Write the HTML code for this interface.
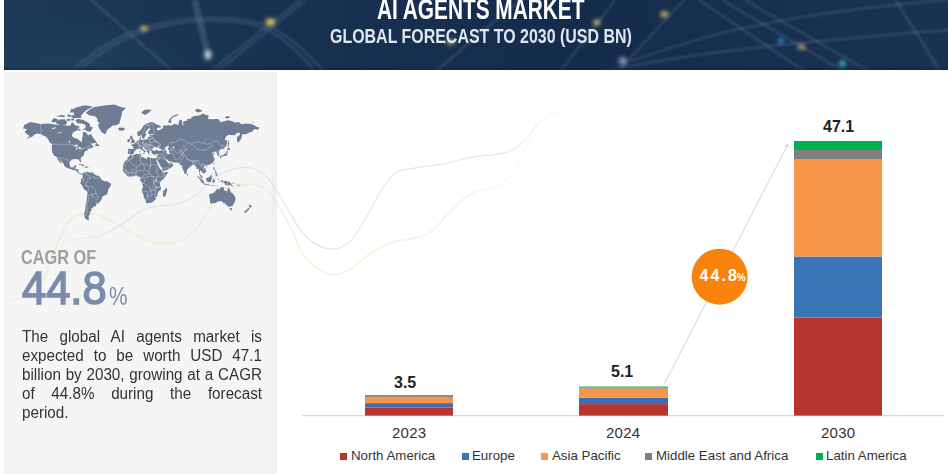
<!DOCTYPE html>
<html><head><meta charset="utf-8">
<style>
*{margin:0;padding:0;box-sizing:border-box}
html,body{width:948px;height:474px;overflow:hidden;background:#fff;font-family:"Liberation Sans",sans-serif}
#root{position:relative;width:948px;height:474px;background:#fff}
.abs{position:absolute;white-space:nowrap}
#banner{position:absolute;left:4px;top:0;width:944px;height:70px;overflow:hidden;background:#172e4e}
#panel{position:absolute;left:4px;top:71.5px;width:273px;height:404px;background:linear-gradient(90deg,#f5f5f5 0,#f5f5f5 267px,#efefef 268px,#f0f0f0 273px)}
.title{font-weight:bold;color:#fff;transform-origin:0 0}
.cond{transform-origin:0 0;display:inline-block}
.para{position:absolute;left:22px;top:326.5px;width:252.6px;font-size:16px;line-height:19.1px;color:#333;transform:scaleX(0.95);transform-origin:0 0}
.pl{text-align:justify;text-align-last:justify;white-space:nowrap;height:19.1px}
.pl.last{text-align-last:left}
.val{font-weight:bold;font-size:16px;color:#222}
.yr{font-size:15px;color:#333;letter-spacing:0.25px}
.leg{font-size:13.3px;color:#333}
.sq{position:absolute;width:7px;height:7px}
</style></head><body><div id="root">
<div id="banner">
<svg width="944" height="70" viewBox="4 0 944 70" style="position:absolute;left:0;top:0">
 <defs>
  <linearGradient id="bg" x1="0" x2="1" y1="0" y2="0"><stop offset="0" stop-color="#1d3858"/><stop offset="0.35" stop-color="#183050"/><stop offset="0.6" stop-color="#152b4b"/><stop offset="1" stop-color="#1a3252"/></linearGradient>
  <radialGradient id="glow" cx="0.08" cy="1.1" r="0.25" gradientTransform="scale(1 3)" ><stop offset="0" stop-color="#23526e" stop-opacity="0.7"/><stop offset="1" stop-color="#23526e" stop-opacity="0"/></radialGradient>
  <radialGradient id="glow2" gradientUnits="userSpaceOnUse" cx="70" cy="80" r="130" gradientTransform="translate(70 80) scale(1 0.5) translate(-70 -80)"><stop offset="0" stop-color="#245570" stop-opacity="0.35"/><stop offset="1" stop-color="#245570" stop-opacity="0"/></radialGradient>
  <linearGradient id="btm" x1="0" y1="0" x2="0" y2="1"><stop offset="0" stop-color="#172633" stop-opacity="0"/><stop offset="1" stop-color="#172633" stop-opacity="0.8"/></linearGradient>
  <filter id="bl" x="-20%" y="-20%" width="140%" height="140%"><feGaussianBlur stdDeviation="1"/></filter>
  <filter id="bl2" x="-50%" y="-50%" width="200%" height="200%"><feGaussianBlur stdDeviation="2"/></filter>
 </defs>
 <rect x="4" width="944" height="70" fill="url(#bg)"/>
 <rect x="4" width="944" height="70" fill="url(#glow2)"/>
 <g fill="none" stroke="#a5bad4" stroke-opacity="0.17" stroke-width="2.4" filter="url(#bl)">
  <path d="M91.6 0 L170.8 70"/>
  <path d="M72.7 70 C100 45,125 33,150 26 C180 18,215 15,250 20.6 C275 25,295 40,322.7 70"/>
  <path d="M80 70 C105 47,128 36,152 29 C182 21,215 18,248 23.5 C272 28,290 42,314 70"/>
  <path d="M300.5 0 L212 70"/>
  <path d="M306 0 L219 70"/>
  <path d="M435 72 L520 0"/>
  <path d="M615 0 L560 72"/>
  <path d="M684 0 L617 72"/>
  <path d="M629.6 61.4 C670 48,700 38,723.7 32.7 C760 24,790 19,805.6 16.4 C860 8,910 3,948 0"/>
  <path d="M600 72 C680 55,760 45,948 30"/>
  <path d="M699 0 L805.6 72"/>
  <path d="M722 0 L845 72"/>
  <path d="M745 0 L870 72"/>
  <path d="M895.6 0 L940.7 72"/>
 </g>
 <path d="M194.5 0 L208.7 57" stroke="#8fa6c2" stroke-opacity="0.22" stroke-width="7" filter="url(#bl)"/>
 <rect x="4" y="66" width="944" height="4" fill="url(#btm)"/>
 <g filter="url(#bl2)">
  <ellipse cx="208" cy="55" rx="3.5" ry="5" fill="#e8ecf0" opacity="0.8"/>
  <ellipse cx="144" cy="28.5" rx="3.5" ry="2.5" fill="#f5d662" opacity="0.9"/>
  <ellipse cx="270.4" cy="22" rx="5" ry="3.5" fill="#f5d662" opacity="0.9"/>
  <ellipse cx="450.6" cy="41.8" rx="5" ry="3" fill="#f5d662" opacity="0.6"/>
  <ellipse cx="596.8" cy="22.5" rx="3.5" ry="3" fill="#f5d662" opacity="0.8"/>
  <ellipse cx="664.4" cy="14.3" rx="4" ry="3" fill="#f5d662" opacity="0.8"/>
  <ellipse cx="622.8" cy="61" rx="4" ry="4" fill="#d8dce0" opacity="0.6"/>
  <ellipse cx="781" cy="41" rx="2.5" ry="2.5" fill="#3fb0f0" opacity="0.9"/>
  <ellipse cx="801.5" cy="47" rx="4" ry="2.5" fill="#f5d662" opacity="0.7"/>
  <ellipse cx="842.4" cy="63.4" rx="3" ry="3" fill="#3fd0f0" opacity="0.9"/>
 </g>
</svg>
</div>
<div class="abs title" id="t1" style="left:377px;top:-8px;font-size:30px;transform:scaleX(0.694)">AI AGENTS MARKET</div>
<div class="abs title" id="t2" style="left:329.5px;top:24px;font-size:21px;color:#dfe6ef;transform:scaleX(0.76)">GLOBAL FORECAST TO 2030 (USD BN)</div>

<div id="panel"></div>
<svg width="948" height="474" style="position:absolute;left:0;top:0">
 <g fill="none">
  <defs>
   <linearGradient id="yg" gradientUnits="userSpaceOnUse" x1="0" y1="0" x2="560" y2="0"><stop offset="0" stop-color="#ece5bd" stop-opacity="0.2"/><stop offset="0.1" stop-color="#ece5bd" stop-opacity="0.6"/><stop offset="0.8" stop-color="#efe9c6" stop-opacity="0.5"/><stop offset="1" stop-color="#efe9c6" stop-opacity="0"/></linearGradient>
   <linearGradient id="gg" gradientUnits="userSpaceOnUse" x1="50" y1="0" x2="580" y2="0"><stop offset="0" stop-color="#dcdce2" stop-opacity="0"/><stop offset="0.1" stop-color="#dcdce2" stop-opacity="0.8"/><stop offset="0.85" stop-color="#e0e0e6" stop-opacity="0.8"/><stop offset="1" stop-color="#e0e0e6" stop-opacity="0"/></linearGradient>
   <filter id="mapblur" x="-2%" y="-2%" width="104%" height="104%"><feGaussianBlur stdDeviation="0.4"/></filter>
   <filter id="cb" x="-5%" y="-5%" width="110%" height="110%"><feGaussianBlur stdDeviation="0.45"/></filter>
  </defs>
  <path d="M4.6 302.0 C7.7 301.1 17.8 298.6 23.2 296.3 C28.6 294.0 33.2 291.8 37.1 288.1 C41.0 284.4 43.7 280.0 46.4 274.2 C49.1 268.4 51.1 259.6 53.4 253.4 C55.7 247.2 57.6 242.5 60.3 237.1 C63.0 231.7 66.1 224.8 69.6 220.9 C73.1 217.0 77.8 215.2 81.2 213.9 C84.6 212.6 86.9 212.6 90.0 212.8 C93.1 213.1 95.5 213.5 100.0 215.4 C104.5 217.3 111.3 220.9 117.0 224.0 C122.7 227.1 128.4 231.1 134.0 234.0 C139.6 236.9 144.5 240.1 150.6 241.6 C156.7 243.1 165.2 243.6 170.8 243.2 C176.4 242.8 179.8 241.7 184.3 239.0 C188.8 236.3 193.9 232.0 197.8 227.2 C201.8 222.4 204.8 214.9 208.0 210.4 C211.2 205.9 212.8 203.9 217.0 200.0 C221.2 196.1 227.2 189.6 233.4 187.1 C239.6 184.6 248.9 184.4 254.3 184.8 C259.7 185.2 262.1 186.4 266.0 189.5 C269.9 192.6 273.3 196.8 277.5 203.4 C281.7 210.0 286.7 219.9 291.4 229.0 C296.1 238.1 299.2 250.5 305.5 258.0 C311.8 265.5 321.6 272.1 329.0 274.0 C336.4 275.9 342.9 273.0 349.8 269.6 C356.7 266.2 363.0 258.1 370.4 253.4 C377.8 248.7 387.1 244.1 394.0 241.6 C400.9 239.1 405.9 240.1 411.8 238.6 C417.7 237.1 423.6 236.6 429.5 232.7 C435.4 228.8 440.6 221.4 447.3 215.0 C454.1 208.6 461.4 199.0 470.0 194.0 C478.6 189.0 491.2 189.6 499.0 185.2 C506.8 180.8 511.9 174.9 516.8 167.5 C521.7 160.1 525.1 149.3 528.6 140.9 C532.1 132.5 534.0 124.7 537.5 117.3 C541.0 109.9 546.6 101.3 549.3 96.6 C552.0 91.9 553.0 90.4 553.7 89.2" stroke="url(#yg)" stroke-width="1.8" filter="url(#cb)"/>
  <path d="M53.0 251.0 C55.8 249.3 63.8 243.2 70.0 241.0 C76.2 238.8 85.0 238.3 90.0 237.5 C95.0 236.7 95.0 238.0 100.0 236.0 C105.0 234.0 113.0 229.8 120.0 225.5 C127.0 221.2 135.5 213.7 142.0 210.4 C148.5 207.2 153.3 207.0 159.0 206.0 C164.7 205.0 170.3 206.0 176.0 204.5 C181.7 203.0 188.2 200.0 193.0 197.0 C197.8 194.0 200.2 190.7 205.0 186.7 C209.8 182.7 215.7 176.4 222.0 173.2 C228.3 170.0 236.5 167.8 242.7 167.4 C248.9 167.0 253.9 168.0 259.0 170.9 C264.1 173.8 268.3 178.6 273.0 184.8 C277.7 191.0 281.6 199.5 287.0 208.0 C292.4 216.5 298.5 229.2 305.5 236.0 C312.5 242.8 321.6 248.1 329.0 249.0 C336.4 249.9 343.6 247.3 350.0 241.6 C356.4 235.9 362.1 223.9 367.5 215.0 C372.9 206.1 377.4 195.6 382.3 188.4 C387.2 181.2 391.1 175.4 397.0 172.0 C402.9 168.6 409.3 169.1 417.7 167.7 C426.1 166.2 438.6 165.0 447.3 163.3 C456.0 161.6 460.4 159.2 470.0 157.4 C479.6 155.6 496.2 155.2 505.0 152.7 C513.8 150.2 517.3 147.1 522.7 142.4 C528.1 137.7 532.6 129.4 537.5 124.7 C542.4 120.0 546.4 116.5 552.3 114.3 C558.2 112.1 569.5 111.9 573.0 111.4" stroke="url(#gg)" stroke-width="1.2" filter="url(#cb)"/>
 </g>
 <g id="map" filter="url(#mapblur)">
  <path d="M24.3 124.9 L30.4 121.9 L40.8 124.0 L48.1 123.5 L58.0 124.9 L62.6 125.2 L70.5 125.8 L71.9 121.7 L75.2 125.2 L79.8 126.4 L77.2 130.2 L73.2 132.3 L71.9 135.3 L72.9 137.2 L77.8 138.9 L79.8 140.8 L81.8 142.2 L82.1 138.6 L83.1 133.8 L82.4 132.0 L85.7 132.3 L88.1 135.3 L91.0 134.0 L93.3 138.1 L96.3 141.7 L97.0 142.2 L94.3 143.3 L90.4 143.5 L91.7 144.8 L93.7 146.9 L90.4 148.5 L87.7 148.7 L87.7 150.3 L85.1 151.3 L83.8 154.0 L84.1 155.3 L80.5 158.1 L81.1 161.3 L80.8 162.6 L79.5 161.0 L78.5 159.2 L75.2 159.0 L71.9 159.5 L69.6 162.0 L69.6 164.8 L70.5 166.9 L71.5 167.4 L73.8 166.9 L74.3 165.5 L76.5 165.2 L75.8 167.6 L75.5 168.9 L78.5 169.3 L78.8 172.3 L80.1 173.8 L81.8 173.3 L82.8 174.0 L82.4 174.8 L81.1 174.6 L79.1 174.1 L77.2 172.0 L75.8 170.8 L73.2 169.9 L70.5 169.1 L67.2 167.9 L64.3 165.9 L63.9 164.1 L62.0 162.2 L59.6 159.5 L58.2 157.9 L60.0 160.6 L61.6 164.1 L60.0 162.7 L58.3 160.6 L56.7 157.3 L55.7 156.2 L54.3 155.9 L53.0 153.6 L52.0 151.3 L51.7 149.3 L52.0 146.4 L51.6 144.9 L52.7 144.3 L50.1 143.1 L48.1 139.5 L46.1 136.7 L43.4 135.5 L40.8 134.3 L37.5 133.5 L34.2 134.8 L32.2 136.7 L29.6 137.6 L26.3 139.2 L29.6 135.7 L26.9 134.3 L24.9 132.3 L25.3 130.7 L27.6 129.7 L24.3 128.6 L23.0 128.5Z M85.7 112.9 L89.7 109.4 L94.3 107.1 L104.3 105.5 L114.2 104.6 L120.8 107.1 L126.1 107.9 L122.1 111.7 L121.4 115.9 L120.1 120.5 L119.5 123.3 L116.8 125.2 L112.8 125.6 L109.5 128.3 L107.6 129.2 L105.9 133.3 L104.9 134.3 L103.6 133.5 L101.3 131.8 L100.0 129.7 L98.6 127.2 L98.3 124.1 L100.0 122.9 L97.6 121.7 L97.0 117.9 L94.3 115.9 L89.7 115.6 L87.1 113.8Z M90.4 126.9 L93.0 127.2 L91.7 129.7 L90.7 131.8 L87.1 131.2 L85.1 129.7 L82.4 129.9 L85.4 128.0 L85.7 125.2 L82.4 123.5 L77.8 123.5 L75.2 120.5 L77.8 118.8 L83.1 120.1 L87.7 122.3 L89.7 124.1Z M56.0 121.7 L59.3 119.6 L64.6 119.2 L67.2 121.7 L65.9 124.7 L61.3 125.2 L56.7 124.1Z M51.4 121.2 L54.0 117.9 L58.0 119.2 L56.0 122.3 L52.0 122.3Z M74.5 115.2 L81.1 115.5 L84.4 111.7 L87.7 109.4 L93.0 106.6 L84.4 105.3 L74.5 107.9 L73.2 110.2Z M73.2 117.9 L81.1 117.9 L81.1 115.6 L74.5 114.8 L70.5 115.9Z M67.2 121.1 L70.5 120.5 L69.9 118.6 L66.6 119.2Z M71.2 120.5 L73.8 120.5 L74.5 118.6 L71.2 118.6Z M56.7 116.6 L64.6 117.3 L64.6 115.2 L60.0 115.2 L56.7 115.9Z M67.2 116.6 L70.5 116.9 L71.2 115.2 L67.9 114.3Z M69.9 112.4 L74.5 112.4 L75.8 109.4 L71.2 108.7Z M77.2 130.0 L80.5 130.7 L80.8 129.7 L77.8 128.0Z M94.8 145.5 L97.0 142.2 L97.3 143.9 L99.0 144.8 L99.2 146.3 L97.0 146.0 L94.7 145.4Z M77.8 164.9 L79.8 164.1 L83.1 164.8 L85.0 166.1 L82.8 166.3 L81.1 165.0 L79.1 164.8Z M84.8 167.3 L86.1 166.3 L88.7 167.2 L87.1 167.8 L84.8 167.4Z M82.2 167.4 L83.6 167.6 L83.2 167.7 L82.3 167.6Z M89.6 167.2 L90.6 167.3 L90.6 167.6 L89.6 167.6Z M82.9 173.8 L84.1 172.6 L85.7 172.0 L86.7 171.4 L86.7 172.6 L87.7 171.5 L89.1 172.6 L91.7 172.6 L93.0 172.5 L94.0 174.0 L96.3 175.6 L98.3 175.8 L100.0 176.8 L100.9 178.4 L100.9 179.6 L102.3 180.3 L104.9 181.3 L107.6 181.6 L109.5 182.9 L110.7 183.2 L110.9 185.6 L109.5 187.6 L108.2 189.6 L107.9 191.6 L107.2 194.0 L106.2 195.1 L104.6 195.3 L102.3 196.8 L101.9 199.0 L100.6 200.8 L99.3 202.6 L98.3 203.6 L96.3 203.7 L96.0 204.8 L96.3 206.1 L93.0 206.8 L92.8 208.2 L91.0 208.3 L91.7 209.5 L90.7 211.5 L89.4 212.8 L90.4 213.8 L88.4 216.1 L88.9 217.7 L88.7 219.7 L89.7 220.2 L87.7 220.3 L86.4 219.3 L84.8 217.9 L84.1 214.0 L85.1 210.7 L85.4 208.7 L85.4 206.0 L86.1 203.7 L86.7 200.0 L87.1 196.5 L87.6 192.0 L86.7 191.3 L83.8 188.9 L83.1 187.6 L81.8 184.9 L80.3 183.2 L80.5 182.2 L81.1 181.3 L80.8 179.9 L81.1 178.9 L81.8 178.5 L82.6 177.1 L82.9 175.0 L82.6 174.6Z M128.1 154.0 L127.7 152.6 L128.2 150.9 L127.9 149.3 L128.7 148.7 L131.0 149.0 L133.0 149.0 L133.2 147.9 L133.2 146.7 L132.3 145.8 L130.9 145.2 L131.0 144.7 L132.9 144.6 L133.1 143.7 L134.1 143.9 L135.0 143.3 L135.7 142.5 L136.6 141.8 L137.1 140.8 L138.6 140.4 L139.7 140.0 L139.7 138.6 L139.4 137.4 L140.6 136.6 L140.9 137.2 L140.6 139.0 L141.2 139.9 L142.6 139.6 L143.6 140.0 L145.2 139.3 L146.4 139.6 L147.2 139.1 L147.9 138.4 L147.9 137.2 L148.1 136.7 L150.1 137.0 L149.9 135.9 L149.5 135.1 L152.5 134.8 L154.0 134.4 L153.2 134.1 L151.5 133.9 L149.2 134.4 L148.1 133.5 L148.2 131.8 L150.5 129.1 L149.9 128.3 L148.5 128.5 L147.9 129.6 L146.6 130.7 L145.6 132.0 L145.4 133.6 L146.5 134.3 L145.9 135.3 L144.9 136.3 L144.8 137.6 L143.4 138.7 L142.5 138.7 L142.3 137.8 L141.8 136.5 L141.4 135.4 L141.0 134.4 L140.6 135.3 L139.3 136.1 L138.0 136.0 L137.6 135.3 L137.3 133.8 L137.3 132.3 L138.6 131.4 L140.6 130.2 L141.9 128.6 L142.9 126.4 L144.2 125.2 L145.9 124.1 L147.9 123.3 L150.5 122.2 L152.5 122.3 L154.5 123.1 L155.8 124.2 L158.1 124.7 L161.1 126.4 L160.8 127.5 L157.1 127.8 L156.8 129.7 L158.5 130.4 L160.4 129.6 L163.1 128.0 L163.1 125.5 L164.4 125.6 L169.0 125.2 L170.4 125.5 L173.0 124.9 L174.3 123.7 L177.0 124.4 L179.3 125.6 L178.2 124.4 L178.9 122.3 L179.6 120.1 L181.9 120.1 L182.1 122.9 L182.9 125.8 L183.6 124.4 L182.9 122.3 L184.2 121.1 L186.9 120.7 L187.2 119.1 L191.2 118.8 L191.5 117.1 L194.8 116.1 L198.8 115.6 L200.8 114.7 L203.1 113.6 L204.7 114.5 L208.7 115.5 L208.0 119.0 L212.0 119.2 L216.0 119.1 L217.9 119.1 L219.3 120.6 L220.6 122.3 L221.9 121.8 L223.9 121.6 L226.5 120.6 L228.5 120.2 L233.2 121.6 L234.5 122.5 L237.8 122.3 L239.8 122.5 L240.8 124.0 L243.7 124.1 L246.4 123.5 L248.4 123.7 L250.3 123.7 L253.0 124.8 L256.3 126.4 L259.8 127.9 L257.6 129.8 L254.3 129.1 L252.0 131.8 L249.0 132.5 L246.4 134.3 L242.4 134.3 L241.7 136.2 L241.4 138.1 L239.8 140.8 L238.8 142.2 L237.6 142.6 L236.9 139.0 L237.0 136.7 L238.8 136.2 L239.8 134.8 L239.8 132.8 L237.1 132.7 L234.5 135.3 L231.8 135.0 L228.5 135.0 L226.5 135.9 L224.6 139.5 L225.5 139.9 L227.2 140.8 L227.2 141.7 L226.9 143.5 L226.5 145.2 L225.2 146.9 L223.2 148.9 L221.3 149.3 L220.3 149.7 L219.7 150.9 L218.6 151.8 L219.6 154.0 L219.5 155.3 L217.7 155.9 L217.5 154.4 L217.7 153.4 L216.6 153.4 L216.3 151.9 L214.8 151.3 L214.0 152.5 L212.0 152.3 L211.7 152.8 L212.7 153.8 L213.8 153.4 L215.0 153.7 L213.5 154.7 L212.8 155.5 L213.8 157.3 L214.6 158.5 L214.6 159.3 L214.3 160.2 L213.5 161.7 L213.0 162.4 L211.3 163.8 L209.5 164.6 L207.4 165.2 L206.9 166.0 L206.5 165.2 L205.4 165.1 L204.4 166.0 L203.9 167.0 L204.5 167.9 L205.5 168.9 L206.2 171.0 L206.0 172.0 L204.7 172.7 L203.4 173.9 L203.3 173.0 L202.1 172.6 L201.6 171.5 L200.7 170.7 L200.1 170.8 L199.6 172.8 L200.3 174.1 L200.4 175.0 L201.0 175.1 L202.1 176.0 L202.4 177.0 L202.4 177.7 L202.9 178.7 L202.4 178.7 L201.0 177.7 L200.4 176.4 L200.3 175.3 L199.1 174.3 L199.2 172.6 L198.8 170.3 L198.6 168.6 L198.2 168.4 L197.1 169.1 L196.3 168.8 L196.3 167.0 L195.8 166.3 L195.0 165.7 L194.8 165.0 L193.8 164.8 L192.8 165.0 L191.5 165.2 L191.4 165.9 L190.2 166.7 L188.4 168.5 L187.5 169.3 L187.0 170.6 L186.9 172.8 L186.4 172.8 L185.6 174.1 L184.9 174.2 L184.4 173.0 L183.8 171.6 L183.3 170.3 L182.5 168.6 L182.1 166.8 L182.1 165.5 L181.9 165.0 L180.6 165.5 L179.6 164.5 L180.3 164.1 L179.1 163.6 L178.5 162.9 L178.0 162.4 L176.3 162.4 L174.7 162.6 L172.3 162.3 L171.9 162.2 L171.3 161.2 L169.7 161.6 L168.0 160.7 L167.2 159.7 L166.3 159.0 L165.7 159.2 L165.9 160.2 L166.7 161.3 L167.4 161.9 L167.6 162.4 L168.1 162.1 L167.8 162.0 L168.1 163.0 L168.7 163.3 L170.0 163.2 L171.0 162.1 L171.2 161.9 L171.3 162.9 L171.9 163.5 L172.9 164.4 L173.5 164.5 L172.7 165.9 L172.2 166.8 L171.4 167.2 L170.6 168.0 L168.5 169.0 L166.4 170.2 L163.7 171.1 L162.8 171.2 L162.2 169.3 L162.2 168.3 L161.2 166.7 L159.9 165.2 L159.5 163.6 L158.6 162.6 L157.5 160.7 L157.1 159.5 L156.6 158.2 L157.1 157.1 L157.5 156.2 L157.7 155.1 L157.8 154.1 L156.8 154.1 L155.5 154.7 L154.2 154.5 L153.2 154.2 L152.1 153.7 L151.4 153.0 L151.6 152.1 L151.3 151.6 L151.6 151.2 L151.2 151.0 L149.9 151.0 L149.6 151.5 L148.9 151.4 L149.2 152.2 L149.9 153.1 L149.2 153.6 L149.3 154.4 L148.9 154.4 L148.3 154.1 L148.1 153.4 L148.4 153.0 L147.9 152.8 L147.7 152.4 L147.3 152.0 L146.8 151.4 L146.8 150.3 L146.2 149.7 L145.2 149.1 L144.2 148.3 L143.6 147.5 L143.0 147.1 L142.2 147.4 L142.1 148.1 L142.9 148.8 L143.4 149.8 L144.6 150.2 L145.2 150.8 L146.2 151.5 L146.1 151.8 L145.3 152.1 L145.0 152.6 L144.6 153.2 L144.3 153.2 L144.4 152.1 L144.2 151.6 L143.6 151.2 L143.1 150.7 L142.3 150.4 L141.4 149.8 L140.9 149.3 L140.7 148.6 L139.8 148.2 L139.0 148.7 L138.3 149.2 L137.3 149.0 L136.6 148.9 L136.0 149.2 L136.1 150.2 L134.7 150.9 L134.0 151.8 L134.1 152.7 L133.5 153.5 L132.6 154.2 L131.1 154.2 L130.3 154.7 L129.8 154.1 L129.1 153.8Z M130.2 143.5 L132.0 143.0 L134.9 142.5 L135.1 141.1 L134.1 140.4 L133.7 139.5 L132.9 138.5 L132.7 138.1 L132.0 137.9 L132.8 136.6 L131.7 136.5 L131.4 135.6 L130.7 135.6 L129.9 136.7 L130.3 137.8 L130.0 138.7 L130.8 139.2 L131.9 139.7 L132.0 140.5 L131.0 140.6 L131.2 142.0 L130.5 141.9 L131.9 142.3 L131.2 142.4Z M130.0 141.6 L129.8 140.0 L130.2 139.5 L129.2 138.8 L128.5 138.9 L127.4 139.8 L127.5 140.4 L127.2 141.7 L127.7 142.1 L128.7 142.0Z M119.1 130.4 L118.1 128.6 L119.5 127.6 L122.1 127.8 L124.1 127.7 L125.0 128.9 L124.4 129.8 L122.1 130.8 L120.1 130.4Z M141.3 112.4 L144.6 109.8 L148.5 109.4 L151.8 110.1 L148.5 112.7 L145.2 115.1 L143.3 114.1Z M168.0 121.7 L169.0 122.7 L172.0 122.8 L170.7 120.7 L171.3 118.8 L173.0 117.3 L175.6 116.2 L179.3 114.7 L176.3 114.5 L172.7 116.1 L170.4 117.9 L169.4 119.6 L168.7 120.7Z M197.5 112.4 L200.1 112.0 L202.7 111.0 L200.1 109.4 L196.8 108.7 L194.8 110.2Z M224.6 117.3 L227.9 115.9 L230.5 117.0 L227.2 118.8Z M252.0 121.7 L253.6 121.7 L254.6 122.3 L253.0 122.5Z M227.9 146.9 L228.9 146.2 L228.5 143.9 L229.5 144.2 L228.5 141.7 L228.7 139.8 L228.2 139.7 L227.9 142.2 L227.7 145.2Z M226.5 149.7 L227.5 149.6 L228.7 150.2 L230.2 149.1 L229.8 148.3 L227.9 147.4 L227.6 148.3 L227.1 149.1Z M227.1 150.5 L227.9 152.1 L227.2 153.2 L227.1 154.7 L226.7 155.4 L226.4 155.6 L225.7 155.8 L224.6 155.8 L224.4 156.0 L223.4 156.5 L223.4 155.8 L221.9 155.9 L220.6 156.3 L220.6 155.8 L221.6 155.2 L223.6 155.0 L224.2 154.1 L224.8 153.7 L225.5 153.7 L226.2 152.8 L226.5 151.7 L226.5 151.1Z M219.9 156.6 L220.7 156.2 L221.3 157.0 L220.8 158.2 L220.1 158.3 L219.8 157.2Z M221.5 157.0 L221.9 156.2 L223.0 156.1 L222.9 156.6 L221.9 157.2Z M213.5 164.5 L214.0 164.9 L214.6 162.9 L214.3 162.5 L213.4 163.7Z M205.8 166.8 L206.8 166.1 L207.4 166.5 L206.4 167.4Z M186.8 174.0 L187.0 173.1 L187.7 173.9 L188.1 174.8 L187.7 175.5 L187.0 175.6Z M213.3 168.9 L213.7 167.2 L214.8 167.2 L214.6 168.6 L214.3 169.7 L216.0 170.6 L215.8 171.1 L214.4 170.4 L213.7 169.9Z M214.6 175.0 L215.6 174.4 L217.0 173.1 L217.6 174.8 L217.0 175.9 L216.0 175.4Z M214.6 173.0 L215.0 171.8 L216.0 171.4 L217.0 172.3 L216.0 173.3Z M211.5 174.1 L213.1 172.0 L213.0 172.6 L211.9 174.1Z M206.4 178.3 L207.7 177.7 L208.7 177.5 L210.0 176.3 L211.1 175.0 L211.8 175.6 L212.8 176.2 L212.0 176.8 L211.8 177.5 L212.0 178.9 L211.3 179.6 L211.0 180.6 L211.0 181.8 L210.7 182.2 L209.7 181.9 L207.9 181.9 L206.8 181.5 L206.7 180.5 L206.0 179.6 L206.0 178.6Z M197.0 175.9 L198.4 176.2 L200.3 178.3 L202.5 179.9 L203.3 181.1 L204.1 181.7 L204.1 183.5 L203.1 183.5 L201.6 182.2 L200.6 180.9 L199.2 178.5 L198.1 177.5Z M203.5 184.1 L204.1 183.5 L205.7 183.8 L207.0 184.2 L208.5 184.2 L209.7 184.7 L209.6 185.4 L207.4 185.0 L205.7 184.8 L204.4 184.5Z M210.0 185.0 L212.7 185.0 L215.3 185.1 L215.3 185.5 L212.7 185.6 L210.3 185.4Z M215.6 186.4 L217.9 185.2 L217.8 185.4 L216.0 186.6Z M212.5 181.6 L213.0 179.3 L213.7 178.9 L216.3 178.7 L216.0 179.1 L214.0 179.3 L213.8 180.1 L215.5 180.3 L214.4 180.8 L214.9 182.6 L214.0 182.4 L213.8 181.5 L213.5 183.2 L212.9 183.2Z M218.3 178.3 L218.9 178.6 L218.6 179.6 L219.1 180.1 L218.3 179.9 L218.1 178.9Z M218.5 181.8 L220.5 181.9 L219.6 181.6 L218.6 181.5Z M220.6 180.5 L221.6 179.9 L222.6 180.2 L223.2 181.8 L225.2 180.7 L227.2 181.3 L229.5 182.1 L230.5 183.2 L231.7 183.7 L231.2 184.5 L231.8 185.1 L233.5 186.4 L232.5 186.5 L231.2 185.8 L229.2 184.8 L228.7 185.6 L227.2 185.7 L225.9 185.0 L225.1 185.2 L225.2 184.2 L223.9 182.6 L221.9 182.2 L221.3 181.5Z M232.2 183.2 L233.2 183.1 L234.1 182.4 L234.7 182.4 L234.3 183.2 L233.3 183.7 L232.2 183.6Z M236.5 183.6 L237.8 184.4 L239.1 184.9 L240.1 185.9 L240.8 186.6 L239.4 186.0 L237.8 185.1 L236.8 184.2Z M209.0 194.4 L209.4 197.2 L210.0 200.0 L210.0 202.7 L211.3 203.7 L213.0 203.0 L215.6 202.9 L217.3 201.7 L219.3 201.2 L220.9 201.1 L222.6 202.1 L223.8 203.6 L224.9 202.4 L225.1 204.2 L226.3 204.3 L226.9 205.9 L228.9 206.6 L230.7 206.8 L231.8 205.8 L233.2 205.5 L233.7 203.4 L234.8 201.9 L235.5 199.0 L235.1 196.7 L233.7 194.8 L232.5 193.3 L230.7 192.2 L230.0 189.5 L228.9 188.9 L228.2 186.7 L227.5 188.6 L227.6 190.9 L227.1 191.3 L226.1 191.2 L224.6 190.2 L223.6 189.6 L224.4 187.7 L223.9 187.5 L221.9 187.1 L220.1 187.8 L219.6 189.5 L217.9 188.8 L216.8 189.3 L215.6 190.9 L214.8 191.6 L214.0 192.7 L212.5 193.2 L211.1 193.4 L209.8 194.2Z M229.6 208.1 L232.0 208.2 L231.8 210.1 L231.0 210.4 L230.0 209.3Z M248.2 203.3 L249.3 204.3 L250.3 205.6 L252.0 205.8 L251.6 206.9 L250.9 207.1 L249.9 208.8 L249.4 208.5 L249.7 207.5 L248.9 206.9 L249.4 206.0 L249.2 205.1Z M248.2 207.9 L249.2 208.5 L248.4 210.5 L247.2 210.9 L246.8 212.3 L245.9 212.8 L244.1 212.3 L244.2 211.7 L245.2 210.7 L246.7 209.8 L247.7 208.6Z M166.6 187.6 L167.4 189.9 L166.9 190.9 L166.3 193.3 L165.4 196.4 L163.9 196.8 L163.1 196.1 L162.6 194.4 L163.3 193.1 L163.1 190.9 L164.6 190.1 L165.7 188.6Z M130.1 154.9 L132.7 155.4 L134.7 154.4 L136.0 154.1 L139.7 154.1 L140.8 153.7 L141.3 154.1 L140.7 155.3 L141.3 155.3 L140.7 156.0 L141.2 156.5 L141.6 156.9 L144.1 157.5 L144.4 158.1 L146.6 158.9 L147.3 158.3 L147.2 157.6 L148.2 157.1 L149.2 157.3 L150.5 157.8 L153.2 158.5 L154.5 158.0 L155.4 158.2 L156.6 158.2 L157.1 159.5 L156.7 160.7 L155.8 159.5 L155.5 159.2 L156.1 161.0 L156.8 162.0 L157.5 163.4 L158.6 165.2 L158.7 167.0 L159.4 167.6 L160.0 169.1 L161.2 169.9 L162.6 171.3 L162.5 172.0 L163.5 172.7 L165.1 172.2 L167.8 171.7 L167.7 172.6 L167.4 173.6 L166.1 175.8 L165.4 176.6 L164.4 178.1 L162.8 179.8 L161.4 180.8 L160.6 181.5 L159.9 182.7 L159.6 183.9 L160.1 184.4 L160.0 185.4 L160.8 186.6 L160.8 189.0 L160.8 189.9 L158.5 191.3 L157.3 194.4 L157.5 195.8 L155.7 197.1 L155.7 199.0 L154.5 200.2 L152.5 202.2 L150.9 202.8 L148.5 203.1 L147.2 203.6 L146.2 203.0 L146.1 201.9 L145.5 200.0 L144.9 199.0 L144.0 197.9 L143.6 195.0 L142.8 193.3 L141.8 191.1 L142.1 188.9 L143.0 187.6 L142.7 185.7 L142.1 183.6 L141.8 182.5 L140.3 180.6 L140.1 179.3 L140.5 177.6 L139.9 177.0 L139.6 176.6 L138.0 176.8 L137.1 175.4 L135.3 175.4 L132.7 176.4 L131.0 176.2 L129.0 176.7 L127.7 176.0 L126.4 175.0 L125.3 173.8 L124.1 172.4 L123.0 171.3 L122.7 169.8 L123.1 168.9 L123.3 166.8 L122.8 165.5 L124.1 163.1 L125.1 160.8 L126.5 160.5 L127.5 159.2 L127.7 157.3 L129.5 156.2Z M140.2 149.3 L140.3 149.9 L140.1 150.6 L139.7 150.2Z M139.4 150.9 L140.5 150.9 L140.3 152.4 L139.6 152.4 L139.6 151.5Z M142.2 153.2 L144.3 153.0 L144.0 154.2 L142.3 153.5Z M149.5 155.1 L151.4 155.3 L151.2 155.5 L149.6 155.3Z M155.4 155.5 L156.8 155.0 L156.3 155.7 L155.5 155.7Z" fill="#6e7c94"/>
  <path d="M152.4 150.1 L152.5 149.1 L153.0 148.1 L153.6 147.4 L154.3 146.4 L155.0 146.4 L156.1 146.9 L155.5 147.4 L156.1 148.1 L157.1 147.7 L158.2 147.6 L159.1 148.2 L160.4 149.0 L161.5 149.6 L161.4 150.5 L159.4 151.0 L158.1 150.7 L157.1 150.1 L156.1 150.1 L154.8 150.7 L153.2 150.7 L152.6 150.4Z M157.1 147.4 L157.5 146.7 L158.8 145.9 L159.9 145.9 L159.1 146.6 L158.8 147.2 L158.2 147.4Z M164.9 148.1 L165.4 149.3 L166.7 151.3 L166.4 152.8 L166.7 153.6 L167.7 154.2 L169.7 154.1 L169.6 152.8 L169.0 152.1 L169.0 151.0 L168.8 150.3 L167.9 149.1 L167.7 148.1 L169.0 147.4 L169.2 146.2 L167.7 146.0 L166.7 146.6 L165.4 147.2Z M172.5 147.3 L173.3 146.6 L174.7 147.0 L174.0 148.3 L172.9 148.7Z M182.6 146.4 L183.6 146.4 L186.2 146.4 L186.4 147.0 L184.9 146.7 L183.2 147.0Z M202.7 142.1 L204.1 141.3 L205.7 139.9 L206.6 138.5 L206.2 138.3 L205.1 140.4 L203.4 141.6 L202.6 141.9Z M73.2 146.3 L75.2 145.0 L77.2 144.5 L78.1 146.0 L76.5 146.4Z M76.0 150.1 L76.2 147.7 L77.8 146.9 L77.5 148.5 L77.0 149.7Z M78.5 146.9 L80.1 147.0 L81.1 148.1 L79.9 149.3 L78.8 148.5Z M78.9 150.3 L81.8 149.4 L81.8 149.7 L79.5 150.6Z M81.3 149.1 L83.6 148.9 L83.4 148.3 L81.5 148.7Z M51.4 129.1 L55.3 126.9 L56.0 128.0 L52.7 129.3Z M56.7 133.3 L62.0 131.8 L60.6 133.0 L57.3 133.5Z M68.6 143.1 L69.6 140.1 L70.2 142.2Z M155.0 179.8 L156.5 179.5 L156.8 180.6 L155.5 181.3 L154.9 180.6Z M153.3 181.9 L153.8 181.9 L154.6 185.2 L154.2 185.2Z M156.5 185.9 L156.9 185.9 L157.3 188.9 L156.8 188.6Z" fill="#f5f5f5"/>
  <path d="M52.7 144.3 L71.2 144.3 L75.2 145.2 L78.5 146.4 L79.5 147.7 L81.8 149.3 L83.8 148.5 L84.8 147.7 L87.1 147.7 L88.4 145.6 L89.4 146.0 L89.7 147.7 M40.8 134.3 L40.8 124.0 M56.7 157.3 L60.6 158.2 L62.6 158.2 L63.6 157.9 L65.9 159.9 L67.2 159.3 L68.2 161.0 L69.6 162.0 M152.5 124.1 L153.8 126.4 L153.5 129.7 L154.8 131.8 L152.5 133.8 M147.2 124.7 L148.5 125.2 L149.9 128.0 M141.9 134.3 L143.9 131.2 L146.2 125.2 L147.2 124.7 M152.5 138.1 L155.2 141.7 L160.4 143.5 L160.4 145.2 L159.1 145.9 M165.1 148.9 L165.7 150.5 L164.4 150.9 L162.4 150.7 L161.5 149.6 M167.1 146.4 L170.4 142.6 L174.3 142.8 L180.3 139.2 L184.2 139.9 L186.9 142.9 L189.5 142.9 L191.5 144.3 L193.5 143.1 L198.8 141.7 L203.4 143.1 L206.7 144.3 L210.7 143.7 L213.3 141.3 L217.3 140.9 L220.6 145.4 L223.2 144.9 L221.9 147.7 L220.6 149.5 M191.5 144.3 L193.5 145.6 L197.5 149.5 L203.4 150.3 L207.4 149.3 L209.4 147.7 L212.7 146.3 L213.0 145.6 L210.7 143.7 M186.9 147.7 L186.9 150.1 L183.6 151.7 L182.9 153.6 L183.6 155.1 L185.6 155.5 L186.2 157.0 L185.9 158.4 L187.5 159.2 L189.5 160.2 L192.2 161.0 L192.8 160.6 L194.8 160.7 L197.5 160.2 L198.8 161.0 L199.1 163.4 L200.8 165.2 L202.7 164.5 L204.1 164.3 L205.4 165.1 M174.3 154.4 L174.0 156.6 L174.3 158.1 L175.0 159.6 L175.6 159.5 L178.0 159.3 L179.8 158.4 L180.6 156.6 L181.1 154.7 L182.9 153.6 M180.9 154.4 L182.9 156.2 L183.6 157.3 L183.2 158.4 L182.3 159.5 L180.9 160.6 L180.3 161.7 L180.9 162.7 L179.1 163.6 M163.1 152.1 L163.4 153.6 L164.4 155.5 L164.4 157.3 L165.7 159.2 M157.8 154.1 L161.8 154.0 L161.8 155.5 L161.1 156.2 L159.8 157.3 L158.5 158.1 L159.8 159.2 L157.1 159.5 M164.4 155.5 L163.4 157.0 L165.1 158.8 M159.8 157.3 L161.8 158.4 L165.1 159.9 L165.7 160.2 M168.4 168.6 L170.4 166.2 L170.4 164.5 L168.4 164.1 M162.4 167.9 L165.1 168.3 L168.4 167.2 M128.2 160.8 L130.8 162.7 L134.7 165.5 L136.6 166.9 L141.9 163.8 L144.6 163.8 L150.5 166.2 L150.5 164.8 L154.5 164.8 L158.3 164.8 M150.5 158.1 L150.5 166.2 L149.9 169.6 L148.5 171.6 L149.2 173.0 L151.8 176.3 L154.5 177.3 L156.5 176.6 L157.8 176.6 L160.4 177.0 L161.8 177.0 L163.1 176.3 L164.4 174.3 L165.7 174.3 M122.8 165.5 L125.4 165.5 L125.4 164.1 L128.2 160.8 L131.6 159.2 L133.2 157.6 L132.7 155.5 M141.9 163.8 L143.3 164.5 L144.2 165.9 L144.4 169.9 L143.0 171.0 L140.6 170.6 L136.6 170.6 L136.4 171.8 L134.7 172.3 L132.1 172.3 L130.4 172.7 L128.7 172.8 L126.7 171.4 L125.9 169.8 L123.0 168.9 M144.4 169.9 L148.5 171.3 L149.9 173.8 L144.6 174.6 L143.6 176.3 L140.3 178.1 M142.1 183.4 L144.6 183.5 L145.9 184.9 L148.5 186.9 L149.9 187.6 L149.9 191.3 L150.5 191.5 L153.2 190.3 L154.2 189.9 L155.8 188.9 L157.1 187.2 L160.8 186.6 M141.8 191.1 L147.2 191.6 L147.9 194.4 L147.2 196.5 L147.2 199.0 L145.2 199.0 M150.5 191.5 L151.8 194.4 L154.5 194.6 L155.2 197.5 M153.2 180.3 L153.8 181.6 L154.2 185.2 L155.2 185.9 L155.8 185.9 M156.5 176.6 L156.5 180.3 L158.8 181.9 L160.6 181.5 M85.5 216.1 L87.1 210.7 L86.7 205.6 L87.7 202.2 L88.7 197.9 L89.4 194.7 M89.4 194.7 L92.7 194.4 L95.7 193.0 L95.7 190.3 L94.3 188.6 L91.0 186.2 L88.1 186.9 L85.7 185.6 L85.4 182.9 L87.7 182.2 L88.1 180.3 L87.7 178.9 L89.7 178.8 L91.7 177.0 L94.3 176.3 M96.0 200.0 L98.3 197.9 L97.6 195.8 L95.7 193.0 M87.6 192.0 L88.4 190.9 L88.1 189.6 L88.5 187.9 M81.1 181.9 L82.4 181.6 L84.4 180.3 L83.1 178.9 L82.1 178.6 M84.4 171.6 L86.1 174.3 L88.4 175.6 L89.4 175.6 L89.7 178.8 M135.7 142.5 L136.6 143.2 L138.0 143.4 L138.1 143.9 L139.4 144.3 M136.6 141.8 L138.0 141.9 L138.6 141.6 L138.8 140.6 M139.7 139.1 L140.5 139.2 M138.0 146.7 L138.6 146.9 L139.6 146.6 L140.9 146.1 L142.1 146.0 L143.1 146.4 L143.1 147.1 M140.6 145.6 L140.3 145.6 L139.7 145.5 L139.0 145.5 M142.0 143.2 L143.8 142.7 L144.9 143.3 L146.4 143.9 M142.0 143.2 L143.1 144.6 L143.9 144.3 L145.2 144.7 L146.4 143.9 M145.2 144.7 L145.4 145.2 L144.9 146.0 L144.6 146.2 M145.4 145.2 L146.4 145.4 L147.2 144.7 L148.7 144.9 M144.9 146.4 L146.4 146.9 L146.9 147.8 L146.8 148.5 L146.9 149.3 L146.2 149.7 M146.6 146.9 L147.9 146.7 L148.9 148.1 L149.1 149.1 L148.8 149.9 M144.6 147.5 L145.6 147.6 L146.6 147.8 M147.3 149.6 L147.7 150.0 L148.3 149.9 L149.1 150.7 M149.1 149.1 L150.9 148.7 L152.5 148.7 M149.5 139.9 L151.6 138.4 L152.6 137.9 M147.2 125.2 L149.5 125.1 L151.0 124.4 L152.8 124.6 M160.8 148.9 L163.1 149.5 L164.7 150.3 L166.1 150.3 M163.1 152.1 L163.7 150.9 L164.7 150.3 M169.4 153.6 L171.0 153.2 L174.0 154.3 L174.3 155.1 M171.0 150.7 L172.3 149.5 L174.3 150.5 L175.3 152.1 L178.0 153.7 M170.9 147.7 L171.0 150.7 L169.0 150.3 M178.0 153.7 L178.9 152.5 L180.6 152.0 L182.6 152.1 L182.8 153.8 L181.3 154.2 M179.7 150.7 L180.6 149.9 L182.9 149.3 L186.9 149.4 M177.6 149.3 L179.7 150.7 L180.9 150.9 L182.3 151.3 M157.5 156.1 L158.1 154.4 M157.1 159.5 L157.8 158.1 L159.8 157.6 M132.7 155.5 L133.0 157.6 L131.7 158.1 L128.2 160.1 M139.3 154.1 L139.5 155.9 L140.3 159.0 L140.6 162.7 L141.9 163.8 M141.6 156.9 L140.3 159.0 M153.2 180.3 L154.2 180.4 L155.8 180.3 L156.5 180.3 M153.5 180.5 L154.4 181.2 L154.2 182.0 M141.3 178.1 L143.6 178.1 L144.6 178.1 L145.9 177.3 L148.5 176.6 L152.2 176.3 L154.5 177.2 M142.6 182.9 L143.3 182.6 L144.6 181.9 L144.9 178.3 M140.4 178.9 L141.5 178.9 L141.5 178.1 M130.4 172.7 L130.7 171.6 L132.7 169.7 L134.7 169.6 L136.4 169.3 L136.6 166.9 M128.7 172.8 L128.4 174.6 L129.0 176.7 M132.1 172.3 L132.0 176.3 M134.7 172.3 L135.0 175.5 M135.8 175.4 L136.4 171.8 M125.9 169.8 L126.4 171.4 L124.9 171.2 L123.0 171.3 M126.4 175.0 L127.2 174.0 L126.6 173.0 L125.3 173.8 M162.4 172.3 L163.1 173.6 L164.4 174.3 L165.7 176.3 L161.1 180.8 M157.8 176.6 L158.8 174.3 L157.1 174.0 L156.5 172.6 L157.5 171.3 L158.1 169.9 L158.8 167.6 M156.5 172.6 L155.8 171.6 L155.8 169.6 L158.3 164.8 M153.8 181.9 L156.5 182.2 L158.5 181.9 M153.5 185.9 L152.8 187.6 L152.2 188.6 L150.7 191.5 M155.7 185.9 L155.8 188.2 L154.2 189.9 M157.1 187.2 L159.1 187.1 L160.8 186.6 M154.0 190.0 L155.7 190.7 L155.7 194.6 L154.8 194.6 M147.2 194.4 L147.2 196.5 L150.5 196.8 L151.8 194.4 M94.3 176.3 L94.3 178.4 L96.3 178.3 L98.3 178.1 L99.9 177.0 M85.7 185.6 L87.4 185.9 L88.4 186.9 M92.7 194.4 L92.6 196.8 L95.7 197.9 M92.6 196.8 L91.0 194.6 M95.7 202.6 L98.6 202.7 M86.7 171.0 L86.4 172.3 L86.1 174.3 M81.8 178.5 L83.8 179.3 L84.2 179.7 M75.0 169.0 L75.7 169.1 M77.4 172.3 L78.7 172.4 M79.2 174.1 L79.3 173.2 M40.8 134.3 L42.1 134.8 M46.7 138.1 L48.1 138.3 M194.8 160.7 L194.5 161.5 M186.9 159.2 L189.5 160.2 L192.2 161.3 M201.8 164.5 L201.1 165.4 M203.7 164.1 L201.8 164.5 M216.3 151.8 L217.3 151.3 L218.9 150.1 L220.4 149.9 M217.6 153.2 L218.9 152.8 M211.7 176.8 L210.3 176.8 L209.4 176.6 M227.2 181.3 L227.2 185.7 M73.2 167.7 L73.8 167.9 L75.2 167.6 L75.2 169.0 M74.8 170.3 L76.5 171.0 L78.5 169.9 L78.8 172.3 L77.4 172.3 M135.7 142.5 L138.0 143.5 L139.3 144.3 L139.0 145.5 L138.0 146.7 L138.6 146.9 L139.0 148.7 M133.0 149.0 L134.5 149.5 L136.1 149.8 M129.4 150.1 L129.4 152.1 L129.1 153.8 M138.0 143.5 L139.3 142.6 L138.6 140.8 M139.0 145.5 L140.6 145.6 L142.6 145.6 L145.2 145.2 L146.4 143.9 L148.9 144.3 M142.0 139.8 L143.6 142.6 L143.9 142.8 L141.9 143.2 M143.1 147.1 L144.6 146.4 L146.6 146.9 L148.5 145.2 L151.2 145.0 L152.6 147.3 M148.5 145.2 L149.9 145.2 L148.9 148.5 L149.9 148.9 L152.8 148.7 M146.8 150.3 L148.5 149.9 L149.1 150.7 L151.3 150.3 L152.5 150.1 M149.9 135.9 L152.2 136.7 L152.5 138.1 L151.5 138.6 L149.5 139.9 L148.9 139.0 L147.9 138.4 M152.5 138.1 L154.2 138.4 L155.2 141.7 L151.8 142.2 L149.9 142.6 L149.5 141.3 L149.5 139.9 M149.9 142.6 L148.9 144.3 L151.2 145.0 L152.6 145.2 L153.8 146.4 M155.2 141.7 L157.1 141.3 L159.1 143.9 L160.4 145.2 L159.1 145.9 M194.8 165.0 L195.1 163.4 L196.1 162.7 L196.8 161.0 L198.1 160.6 M192.2 161.0 L192.5 161.7 L194.8 161.4 L192.8 162.4 L192.8 165.0 M200.1 166.0 L201.1 165.9 L203.4 167.6 L203.7 168.9 L204.4 169.9 L201.8 171.6 M199.1 172.6 L199.4 175.3 L200.3 175.3 M227.2 181.3 L227.2 185.7" fill="none" stroke="#d5dbe5" stroke-width="0.6" stroke-opacity="0.7"/>
 </g>
</svg>

<div class="abs cond" id="cagr" style="left:20.5px;top:245.7px;font-size:20px;color:#9e9e9e;font-weight:bold;transform:scaleX(0.815)">CAGR OF</div>
<div class="abs cond" id="big" style="left:21.5px;top:260.8px;font-size:46px;color:#7a8bab;-webkit-text-stroke:1.6px #7a8bab;transform:scaleX(0.945)">44.8</div>
<div class="abs cond" id="pct" style="left:108.5px;top:280.5px;font-size:26px;color:#7a8bab;transform:scaleX(0.8)">%</div>

<div class="para" id="para"><div class="pl">The global AI agents market is</div><div class="pl">expected to be worth USD 47.1</div><div class="pl">billion by 2030, growing at a CAGR</div><div class="pl">of 44.8% during the forecast</div><div class="pl last">period.</div></div>

<!-- chart -->
<svg width="948" height="474" style="position:absolute;left:0;top:0">
 <line x1="302" y1="415.7" x2="944.5" y2="415.7" stroke="#d9d9d9" stroke-width="1.2"/>
 <!-- 2023 -->
 <rect x="365" y="407.6" width="88" height="8" fill="#b8352f"/>
 <rect x="365" y="403.1" width="88" height="4.5" fill="#3d6db5"/>
 <rect x="365" y="396.9" width="88" height="6.2" fill="#f79646"/>
 <rect x="365" y="395.9" width="88" height="1" fill="#7f7f7f"/>
 <rect x="365" y="395" width="88" height="0.9" fill="#5c9a4c"/>
 <!-- 2024 -->
 <rect x="579" y="404.1" width="89" height="11.5" fill="#b8352f"/>
 <rect x="579" y="397.8" width="89" height="6.3" fill="#3d6db5"/>
 <rect x="579" y="388.6" width="89" height="9.2" fill="#f79646"/>
 <rect x="579" y="387.6" width="89" height="1" fill="#7f7f7f"/>
 <rect x="579" y="386.5" width="89" height="1.1" fill="#4a9f4a"/>
 <!-- 2030 -->
 <rect x="794" y="317.5" width="88" height="98.1" fill="#b8352f"/>
 <rect x="794" y="256.5" width="88" height="61" fill="#3a75b5"/>
 <rect x="794" y="159.5" width="88" height="97" fill="#f79646"/>
 <rect x="794" y="150" width="88" height="9.5" fill="#7f7f7f"/>
 <rect x="794" y="141" width="88" height="9" fill="#00b050"/>
 <!-- arrow line -->
 <line x1="664.5" y1="383.5" x2="788" y2="144" stroke="#d4d4d4" stroke-width="1"/>
 <path d="M788 143 L 784.5 146.5 L 788.5 147.5 Z" fill="#d4d4d4"/>
 <circle cx="719.6" cy="276.7" r="28" fill="#f7830e"/>
</svg>
<div class="abs" id="circ" style="left:699.5px;top:267px;font-size:16px;font-weight:bold;color:#fff;letter-spacing:2.1px">44.8<span style="font-size:10px;letter-spacing:0;margin-left:-2.3px">%</span></div>

<div class="abs val" id="v1" style="left:394px;top:373.5px;">3.5</div>
<div class="abs val" id="v2" style="left:611px;top:363px;">5.1</div>
<div class="abs val" id="v3" style="left:823px;top:118px;">47.1</div>

<div class="abs yr" id="y1" style="left:392px;top:423.5px;">2023</div>
<div class="abs yr" id="y2" style="left:606px;top:423.5px;">2024</div>
<div class="abs yr" id="y3" style="left:821px;top:423.5px;">2030</div>

<div class="sq" style="left:340px;top:453px;background:#b8352f"></div>
<div class="abs leg" id="l1" style="left:351px;top:448px;">North America</div>
<div class="sq" style="left:462px;top:453px;background:#3a75b5"></div>
<div class="abs leg" id="l2" style="left:472px;top:448px;">Europe</div>
<div class="sq" style="left:541px;top:453px;background:#f79646"></div>
<div class="abs leg" id="l3" style="left:552px;top:448px;">Asia Pacific</div>
<div class="sq" style="left:645px;top:453px;background:#7f7f7f"></div>
<div class="abs leg" id="l4" style="left:656px;top:448px;">Middle East and Africa</div>
<div class="sq" style="left:816px;top:453px;background:#00b050"></div>
<div class="abs leg" id="l5" style="left:826px;top:448px;">Latin America</div>
</div></body></html>
